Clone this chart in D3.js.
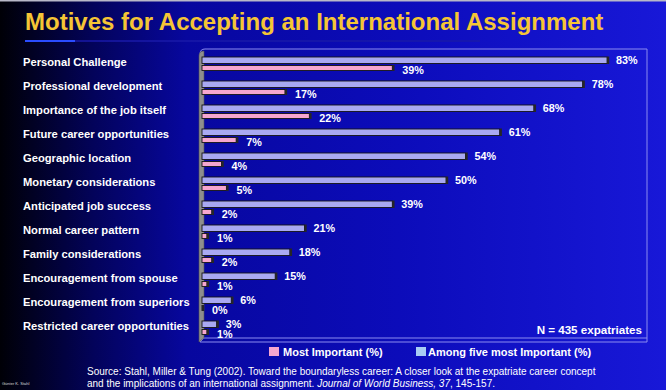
<!DOCTYPE html>
<html><head><meta charset="utf-8">
<script src="https://cdn.jsdelivr.net/npm/d3@7"></script>
<style>html,body{margin:0;padding:0;overflow:hidden;background:#000}</style>
</head><body>
<script>
const categories = ["Personal Challenge","Professional development","Importance of the job itself","Future career opportunities","Geographic location","Monetary considerations","Anticipated job success","Normal career pattern","Family considerations","Encouragement from spouse","Encouragement from superiors","Restricted career opportunities"];
const amongFive = [83,78,68,61,54,50,39,21,18,15,6,3];
const mostImportant = [39,17,22,7,4,5,2,1,2,1,0,1];
const seriesNames = ["Most Important (%)","Among five most Important (%)"];

const W=666,H=390;
const svg=d3.select("body").append("svg").attr("width",W).attr("height",H);
const defs=svg.append("defs");
const g=defs.append("linearGradient").attr("id","bg").attr("x1",0).attr("x2",1).attr("y1",0).attr("y2",0);
[[0,"#000006"],[0.05,"#010124"],[0.14,"#03035a"],[0.28,"#07079e"],[0.6,"#0c0cba"],[1,"#1818d8"]].forEach(s=>g.append("stop").attr("offset",s[0]).attr("stop-color",s[1]));
svg.append("rect").attr("width",W).attr("height",H).attr("fill","url(#bg)");
svg.append("rect").attr("width",W).attr("height",1.5).attr("fill","#b8b8c8");

// title
svg.append("text").attr("x",25).attr("y",30).attr("fill","#f5c535")
  .style("font","bold 24px 'Liberation Sans', Arial, sans-serif")
  .text("Motives for Accepting an International Assignment");
svg.append("line").attr("x1",25).attr("x2",480).attr("y1",41).attr("y2",41).attr("stroke","#1a1aa8").attr("stroke-width",1.5);
svg.append("line").attr("x1",25).attr("x2",75).attr("y1",41).attr("y2",41).attr("stroke","#2a4cff").attr("stroke-width",2);

// scales
const x=d3.scaleLinear().domain([0,100]).range([202,690]);
const y=d3.scaleBand().domain(categories).range([52,340]);

// plot frame
svg.append("path").attr("d","M200,342 L200,54 Q200,49 205,49 L647,49 L647,342 Z")
  .attr("fill","none").attr("stroke","#8c8cf0").attr("stroke-width",1);
svg.append("line").attr("x1",204).attr("x2",647).attr("y1",338).attr("y2",338).attr("stroke","#8c8cf0").attr("stroke-width",1);
svg.append("line").attr("x1",200).attr("x2",204).attr("y1",342).attr("y2",338).attr("stroke","#8c8cf0").attr("stroke-width",1);
// left wall
svg.append("path").attr("d","M199,56 Q199,51 204,51 L204,338 L199,342 Z").attr("fill","#8e8e8e").attr("stroke","#555").attr("stroke-width",0.6);

// category labels
svg.append("g").selectAll("text").data(categories).join("text")
  .attr("x",23).attr("y",d=>y(d)+14).attr("fill","#fff")
  .style("font","bold 11.2px 'Liberation Sans', Arial, sans-serif").text(d=>d);

const bh1=6.5, bh2=5;
function bars(vals, off, h, fill){
  const gg=svg.append("g");
  gg.selectAll("rect.b").data(vals).join("rect").attr("class","b")
    .attr("x",x(0)).attr("y",(d,i)=>y(categories[i])+off).attr("width",d=>Math.max(0.6,x(d)-x(0))).attr("height",h)
    .attr("fill",fill).attr("stroke","#151515").attr("stroke-width",0.9);
  gg.selectAll("rect.e").data(vals).join("rect").attr("class","e")
    .attr("x",d=>x(d)).attr("y",(d,i)=>y(categories[i])+off-0.5).attr("width",2.2).attr("height",h+1)
    .attr("fill","#262626");
}
bars(amongFive,5,bh1,"#a9a9f2");
bars(mostImportant,13.5,bh2,"#f6a6cf");

const vf="bold 10.8px 'Liberation Sans', Arial, sans-serif";
svg.append("g").selectAll("text").data(amongFive).join("text")
  .attr("x",d=>x(d)+9).attr("y",(d,i)=>y(categories[i])+12).attr("fill","#fff").style("font",vf).text(d=>d+"%");
svg.append("g").selectAll("text").data(mostImportant).join("text")
  .attr("x",d=>x(d)+10).attr("y",(d,i)=>y(categories[i])+22).attr("fill","#fff").style("font",vf).text(d=>d+"%");

svg.append("text").attr("x",642).attr("y",334).attr("text-anchor","end").attr("fill","#fff")
  .style("font","bold 11.6px 'Liberation Sans', Arial, sans-serif").text("N = 435 expatriates");

// legend
const lf="bold 11px 'Liberation Sans', Arial, sans-serif";
svg.append("rect").attr("x",269).attr("y",347).attr("width",10).attr("height",9).attr("fill","#f6a6cf");
svg.append("text").attr("x",283).attr("y",356).attr("fill","#fff").style("font",lf).text(seriesNames[0]);
svg.append("rect").attr("x",416).attr("y",347).attr("width",10).attr("height",9).attr("fill","#a8ccf4");
svg.append("text").attr("x",428).attr("y",356).attr("fill","#fff").style("font",lf).text(seriesNames[1]);

// source
const sf="10px 'Liberation Sans', Arial, sans-serif";
svg.append("text").attr("x",87).attr("y",375).attr("fill","#fff").style("font",sf)
  .text("Source: Stahl, Miller & Tung (2002). Toward the boundaryless career: A closer look at the expatriate career concept");
const t2=svg.append("text").attr("x",87).attr("y",387).attr("fill","#fff").style("font",sf);
t2.append("tspan").text("and the implications of an international assignment. ");
t2.append("tspan").style("font-style","italic").text("Journal of World Business, 37");
t2.append("tspan").text(", 145-157.");

svg.append("text").attr("x",2).attr("y",385).attr("fill","#ddd").style("font","4px 'Liberation Sans', Arial, sans-serif").text("Günter K. Stahl");
</script>
</body></html>
